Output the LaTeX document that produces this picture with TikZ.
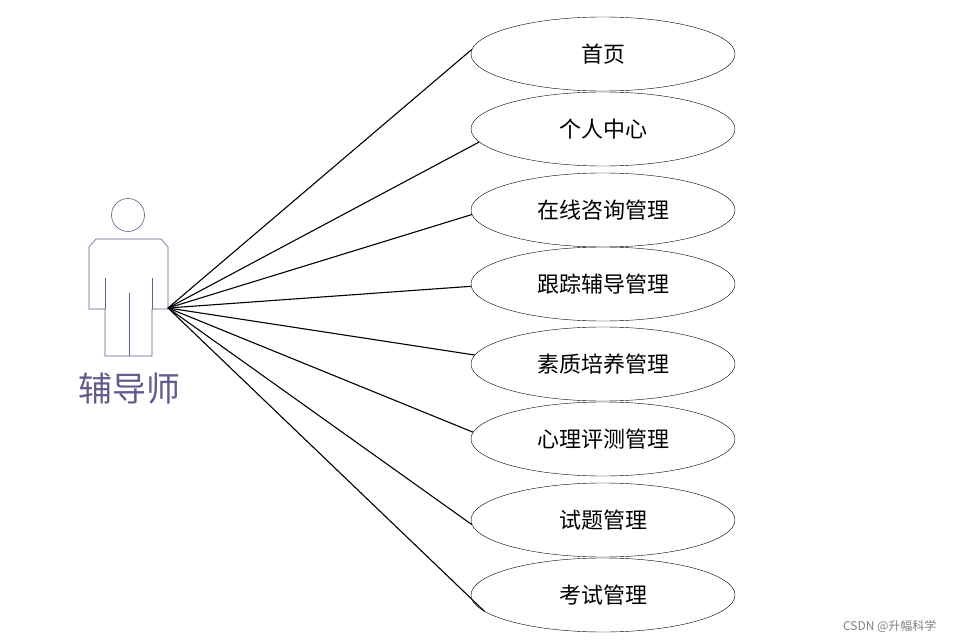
\documentclass[tikz,border=0pt]{standalone}
\usepackage{fontspec}
\newfontfamily\cjk{Noto Sans CJK SC}
\usetikzlibrary{shapes.geometric}
\definecolor{actorcol}{RGB}{96,92,140}
\tikzset{
  usecase/.style={draw, ellipse, minimum width=264pt, minimum height=74pt, inner sep=0pt, font=\cjk\fontsize{22}{24}\selectfont},
  link/.style={line width=1.1pt},
  actorline/.style={draw=actorcol, line width=0.6pt}
}
\begin{document}
\begin{tikzpicture}[x=1pt,y=-1pt]
\useasboundingbox (0,0) rectangle (953,644);

% actor
\draw[actorline] (128,215) circle (16.5);
\draw[actorline] (105,356) -- (105,309) -- (89,309) -- (89,247) -- (96,239) -- (161,239) -- (168,247) -- (168,309) -- (152,309) -- (152,356) -- cycle;
\draw[actorline] (105,278) -- (105,309);
\draw[actorline] (152,278) -- (152,309);
\draw[actorline] (129,293) -- (129,356);
\node[text=actorcol, font=\cjk\fontsize{34}{36}\selectfont] (actorlbl) at (129,389) {辅导师};
\coordinate (hand) at (168,308);

% use cases
\node[usecase] (uc1) at (603,54) {首页};
\node[usecase] (uc2) at (603,129) {个人中心};
\node[usecase] (uc3) at (603,210) {在线咨询管理};
\node[usecase] (uc4) at (603,284) {跟踪辅导管理};
\node[usecase] (uc5) at (603,364) {素质培养管理};
\node[usecase] (uc6) at (603,439) {心理评测管理};
\node[usecase] (uc7) at (603,520) {试题管理};
\node[usecase] (uc8) at (603,595) {考试管理};

% links
\draw[link] (hand) -- (uc1.178);
\draw[link] (hand) -- (uc2.186);
\draw[link] (hand) -- (uc3.182);
\draw[link] (hand) -- (uc4.181);
\draw[link] (hand) -- (uc5.176);
\draw[link] (hand) -- (uc6.177);
\draw[link] (hand) -- (uc7.182);
\draw[link] (hand) -- (uc8.188);

\node[text=gray, font=\cjk\fontsize{12}{14}\selectfont, anchor=east] (mark) at (940,626) {CSDN @升幅科学};
\end{tikzpicture}
\end{document}
